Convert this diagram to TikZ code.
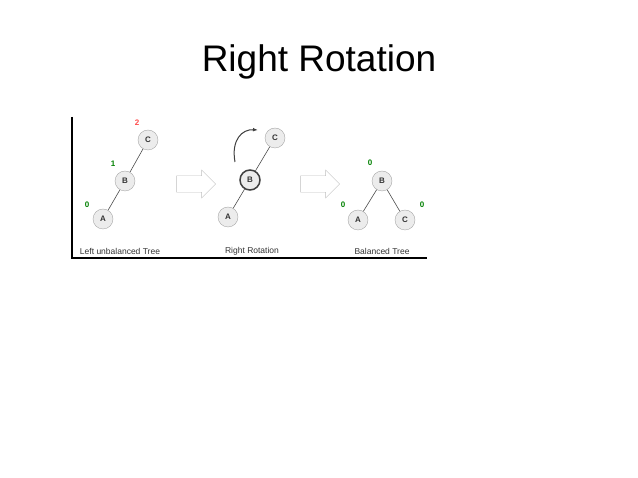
\documentclass[tikz,border=0pt]{standalone}
\usepackage{fontspec}
\setmainfont{Liberation Sans}
\usetikzlibrary{shapes.arrows,arrows.meta}
\begin{document}
\begin{tikzpicture}[x=1pt,y=-1pt,
  tn/.style={circle,draw=gray!70,fill=gray!15,minimum size=20pt,inner sep=0pt,font=\fontsize{8}{9}\selectfont\bfseries,text=black!80},
  edge/.style={draw=black!70,line width=0.6pt},
  bal/.style={font=\fontsize{8}{9}\selectfont\bfseries,text=green!50!black},
  captxt/.style={font=\fontsize{8.5}{10}\selectfont,text=black!80},
  hol/.style={single arrow,draw=gray!50,fill=white,minimum height=39pt,minimum width=28pt,single arrow head extend=5pt,inner xsep=0pt,inner ysep=7pt}]
\useasboundingbox (0,0) rectangle (638,478);
\node (title) at (319,62) {\fontsize{37}{42}\selectfont Right Rotation};
\coordinate (ax) at (72,117); \coordinate (org) at (72,258); \coordinate (xe) at (427,258);
\draw[line width=2pt] (ax) -- (org) -- (xe);
% tree 1
\node[tn] (c1) at (148,140) {C};
\node[tn] (b1) at (125,181) {B};
\node[tn] (a1) at (103,219) {A};
\draw[edge] (c1) -- (b1); \draw[edge] (b1) -- (a1);
\node[bal,text=red!70] (l2) at (137,123) {2};
\node[bal] (l1) at (113,164) {1};
\node[bal] (l0) at (87,205) {0};
\node[captxt] (t1) at (120,251) {Left unbalanced Tree};
\node[hol] (ar1) at (192,184) {};
% tree 2
\node[tn] (c2) at (275,138) {C};
\node[tn,draw=black!75,line width=1.5pt] (b2) at (250,180) {B};
\node[tn] (a2) at (228,217) {A};
\draw[edge] (c2) -- (b2); \draw[edge] (b2) -- (a2);
\coordinate (rs) at (235,162); \coordinate (re) at (258,130);
\draw[line width=1pt,black!75,-{Latex[length=5pt]}] (rs) .. controls (231,140) and (242,129) .. (re);
\node[captxt] (t2) at (252,251) {Right Rotation};
\node[hol] (ar2) at (316,184) {};
% tree 3
\node[tn] (b3) at (382,181) {B};
\node[tn] (a3) at (358,220) {A};
\node[tn] (c3) at (405,220) {C};
\draw[edge] (b3) -- (a3); \draw[edge] (b3) -- (c3);
\node[bal] (m0) at (370,163) {0};
\node[bal] (m1) at (343,205) {0};
\node[bal] (m2) at (422,205) {0};
\node[captxt] (t3) at (382,251) {Balanced Tree};
\end{tikzpicture}
\end{document}
